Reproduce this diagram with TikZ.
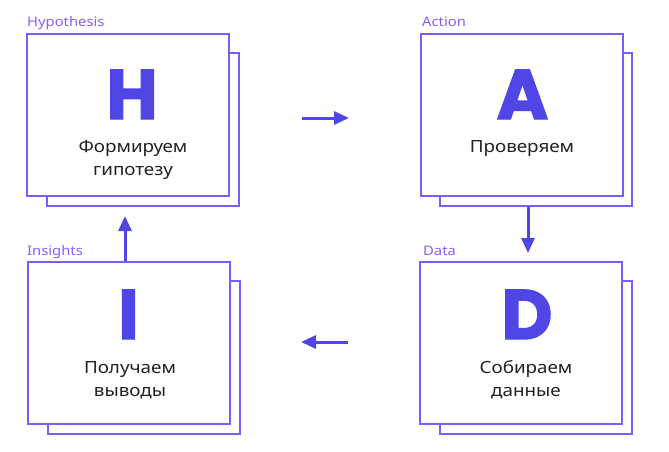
\documentclass[tikz,border=0pt]{standalone}
\usepackage{fontspec}
\setmainfont{Noto Sans}
\newfontfamily\capf{Noto Sans}[FakeStretch=1.12]
\newfontfamily\tagf{Noto Sans}[FakeStretch=1.12]
\newfontfamily\bigf{Poppins}[BoldFeatures={FakeBold=2}]
\usetikzlibrary{arrows.meta}
\definecolor{accent}{HTML}{4F46E5}
\definecolor{frame}{HTML}{7B5CFA}
\definecolor{lab}{HTML}{8B5CF6}
\definecolor{ink}{HTML}{222222}
\tikzset{
  front/.style={draw=frame, line width=2pt, fill=white, minimum width=202pt, minimum height=162pt, inner sep=0pt},
  back/.style={draw=frame, line width=2pt, fill=white, minimum width=192pt, minimum height=153pt, inner sep=0pt},
  biglet/.style={text=accent, font=\bigf\bfseries\fontsize{70}{70}\selectfont, inner sep=0pt, anchor=base, text height=49pt, text depth=0pt},
  caption/.style={text=ink, font=\capf\fontsize{16.8}{23.5}\selectfont, align=center, inner sep=0pt, anchor=base},
  tag/.style={text=lab, font=\tagf\fontsize{13.2}{13}\selectfont, anchor=base west, inner sep=0pt},
  flow/.style={draw=accent, line width=3pt, -{Triangle[length=15pt,width=13pt]}}
}
\begin{document}
\begin{tikzpicture}[x=1pt,y=-1pt]
\useasboundingbox (0,0) rectangle (669,452);
% back boxes
\node[back] (Hb) at (143,129.5) {};
\node[back] (Ab) at (536,129.5) {};
\node[back] (Ib) at (143.5,357) {};
\node[back] (Db) at (536,357) {};
% front boxes
\node[front] (H) at (128,115) {};
\node[front] (A) at (521.5,115) {};
\node[front] (I) at (129,342.5) {};
\node[front] (D) at (521,342.5) {};
% tags
\node[tag] (tH) at (27,27) {Hypothesis};
\node[tag] (tA) at (422,27) {Action};
\node[tag] (tI) at (27,255) {Insights};
\node[tag] (tD) at (423,255) {Data};
% letters
\node[biglet] (lH) at (132,119) {H};
\node[biglet] (lA) at (522.5,119) {A};
\node[biglet] (lI) at (128.5,339) {I};
\node[biglet] (lD) at (527,339) {D};
% captions (base anchor = last line baseline)
\node[caption] (cH) at (133,175.5) {Формируем\\гипотезу};
\node[caption] (cA) at (522,152) {Проверяем};
\node[caption] (cI) at (130,396.5) {Получаем\\выводы};
\node[caption] (cD) at (526,396.5) {Собираем\\данные};
% arrows
\coordinate (r1) at (302,118);
\coordinate (r2) at (349,118);
\coordinate (l1) at (348,342);
\coordinate (l2) at (301,342);
\coordinate (u2) at (125,216);
\coordinate (d2) at (528,253);
\draw[flow] (r1) -- (r2);
\draw[flow] (l1) -- (l2);
\draw[flow] (I.north -| u2) -- (u2);
\draw[flow] (Ab.south -| d2) -- (d2);
\end{tikzpicture}
\end{document}
